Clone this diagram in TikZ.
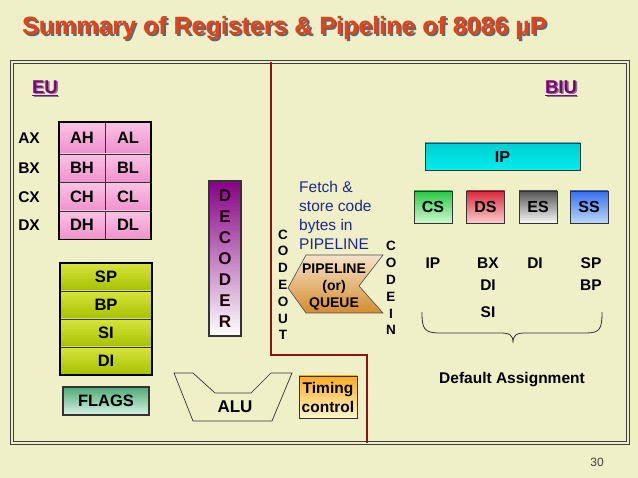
\documentclass[tikz,border=0pt]{standalone}
\usepackage{fontspec}
\setmainfont{Liberation Sans}
\usetikzlibrary{positioning}

\definecolor{slidebg}{RGB}{239,240,200}
\definecolor{titlered}{RGB}{228,66,28}
\definecolor{unitpurple}{RGB}{128,0,128}
\definecolor{divred}{RGB}{140,20,20}
\definecolor{notablue}{RGB}{30,40,140}
\definecolor{pinktop}{RGB}{250,195,228}
\definecolor{pinkbot}{RGB}{240,145,205}
\definecolor{limetop}{RGB}{215,228,60}
\definecolor{limebot}{RGB}{165,192,0}
\definecolor{flagtop}{RGB}{80,170,120}
\definecolor{flagbot}{RGB}{215,242,228}
\definecolor{dectop}{RGB}{135,0,135}
\definecolor{timetop}{RGB}{255,172,30}
\definecolor{timebot}{RGB}{255,246,205}
\definecolor{pipetop}{RGB}{246,226,200}
\definecolor{pipebot}{RGB}{212,140,48}
\definecolor{iptop}{RGB}{0,205,210}
\definecolor{ipbot}{RGB}{0,238,238}
\definecolor{cstop}{RGB}{40,200,70}
\definecolor{csbot}{RGB}{205,250,205}
\definecolor{dstop}{RGB}{220,40,60}
\definecolor{dsbot}{RGB}{250,205,205}
\definecolor{estop}{RGB}{85,85,85}
\definecolor{esbot}{RGB}{248,248,248}
\definecolor{sstop}{RGB}{55,110,240}
\definecolor{ssbot}{RGB}{185,215,255}

\begin{document}
\begin{tikzpicture}[
  x=1pt, y=-1pt,
  reg/.style={draw=black!80, line width=0.6pt, inner sep=0pt, outer sep=0pt,
    font=\bfseries\fontsize{16.5}{18}\selectfont},
  pinkreg/.style={reg, minimum width=46pt, minimum height=28.5pt,
    top color=pinktop, bottom color=pinkbot},
  limereg/.style={reg, minimum width=92pt, minimum height=28pt,
    top color=limetop, bottom color=limebot},
  seg/.style={reg, minimum width=38pt, minimum height=32pt,
    font=\bfseries\fontsize{16}{18}\selectfont},
  lbl/.style={inner sep=0pt, font=\bfseries\fontsize{15.5}{17}\selectfont},
  stack/.style={inner sep=0pt, align=center,
    font=\bfseries\fontsize{13.5}{16.8}\selectfont},
  heading/.style={inner sep=0pt, anchor=base west,
    font=\bfseries\fontsize{25}{28}\selectfont},
  unit/.style={inner sep=0pt, font=\bfseries\fontsize{18.5}{20}\selectfont},
  ]
  \fill [slidebg] (0,0) rectangle (638,478);
  \useasboundingbox (0,0) rectangle (638,478);

  \node [heading, text=black!60] (title-shade) at (24,37)
    {Summary of Registers \& Pipeline of 8086 µP};
  \node [heading, text=titlered] (title) at (22,35)
    {Summary of Registers \& Pipeline of 8086 µP};

  \draw [black!75, line width=0.7pt, double=slidebg, double distance=2.4pt]
    (12,62) rectangle (628,443);
  \draw [divred, line width=1.3pt] (271,62) -- (271,355) -- (367,355) -- (367,443);

  \node [unit, text=black!50] (eu-shade) at (46.5,89.5) {\underline{EU}};
  \node [unit, text=unitpurple] (eu) at (45,88) {\underline{EU}};
  \node [unit, text=black!50] (biu-shade) at (562.5,89.5) {\underline{BIU}};
  \node [unit, text=unitpurple] (biu) at (561,88) {\underline{BIU}};

  % general purpose registers
  \node [pinkreg, minimum height=32pt] (ah-reg) at (82,138) {AH};
  \node [pinkreg, minimum height=32pt, right=0pt of ah-reg] (al-reg) {AL};
  \node [pinkreg, below=0pt of ah-reg] (bh-reg) {BH};
  \node [pinkreg, right=0pt of bh-reg] (bl-reg) {BL};
  \node [pinkreg, below=0pt of bh-reg] (ch-reg) {CH};
  \node [pinkreg, right=0pt of ch-reg] (cl-reg) {CL};
  \node [pinkreg, below=0pt of ch-reg] (dh-reg) {DH};
  \node [pinkreg, right=0pt of dh-reg] (dl-reg) {DL};
  \draw [line width=1.4pt] (ah-reg.north west) rectangle (dl-reg.south east);
  \node [lbl, left=19pt of ah-reg] (ax-lbl) {AX};
  \node [lbl, left=19pt of bh-reg] (bx-lbl) {BX};
  \node [lbl, left=19pt of ch-reg] (cx-lbl) {CX};
  \node [lbl, left=19pt of dh-reg] (dx-lbl) {DX};

  % pointer and index registers
  \node [limereg] (sp-reg) at (106,277) {SP};
  \node [limereg, below=0pt of sp-reg] (bp-reg) {BP};
  \node [limereg, below=0pt of bp-reg] (si-reg) {SI};
  \node [limereg, below=0pt of si-reg] (di-reg) {DI};
  \draw [line width=1.4pt] (sp-reg.north west) rectangle (di-reg.south east);

  \node [reg, line width=1.4pt, minimum width=86pt, minimum height=28pt,
    top color=flagtop, bottom color=flagbot] (flags) at (106,401) {FLAGS};

  \node [reg, line width=1.4pt, minimum width=32pt, minimum height=155pt,
    top color=dectop, bottom color=white, align=center, text=black!85!purple,
    font=\bfseries\fontsize{17}{21}\selectfont] (decoder) at (225,258.5)
    {D\\E\\C\\O\\D\\E\\R};

  \draw [black!80, line width=0.7pt] (174,373) -- (193,373) -- (215,393)
    -- (251,393) -- (271,373) -- (292,373) -- (272,421) -- (193,421) -- cycle;
  \node [lbl, font=\bfseries\fontsize{17}{19}\selectfont] (alu) at (235,407) {ALU};

  \node [reg, minimum width=58pt, minimum height=42pt, align=center,
    top color=timetop, bottom color=timebot,
    font=\bfseries\fontsize{15.5}{19}\selectfont] (timing) at (328,397)
    {Timing\\control};

  % instruction queue
  \node [inner sep=0pt, anchor=base west, align=left, text=notablue,
    font=\fontsize{15.5}{19}\selectfont] (fetch-note) at (299,250)
    {Fetch \&\\store code\\bytes in\\PIPELINE};
  \draw [draw=black!70, line width=0.6pt, top color=pipetop, bottom color=pipebot]
    (288,288) -- (306,255) -- (383,255) -- (359,286) -- (383,313) -- (306,313) -- cycle;
  \node [stack, font=\bfseries\fontsize{14}{17}\selectfont] (queue) at (334,287)
    {PIPELINE\\(or)\\QUEUE};
  \node [stack, anchor=base] (code-out) at (283,340) {C\\O\\D\\E\\O\\U\\T};
  \node [stack, anchor=base] (code-in) at (391,335) {C\\O\\D\\E\\I\\N};

  % bus interface unit
  \node [reg, minimum width=155pt, minimum height=27pt, top color=iptop,
    bottom color=ipbot, font=\bfseries\fontsize{16}{18}\selectfont] (ip-reg)
    at (502.5,156.5) {IP};
  \node [seg, top color=cstop, bottom color=csbot] (cs-reg) at (433,207) {CS};
  \node [seg, top color=dstop, bottom color=dsbot] (ds-reg) at (485.5,207) {DS};
  \node [seg, top color=estop, bottom color=esbot] (es-reg) at (538,207) {ES};
  \node [seg, top color=sstop, bottom color=ssbot] (ss-reg) at (589,207) {SS};

  \node [lbl] (cs-ip) at (433,263) {IP};
  \node [lbl] (ds-bx) at (488,263) {BX};
  \node [lbl] (ds-di) at (488,285) {DI};
  \node [lbl] (ds-si) at (488,312) {SI};
  \node [lbl] (es-di) at (535,263) {DI};
  \node [lbl] (ss-sp) at (591,263) {SP};
  \node [lbl] (ss-bp) at (591,285) {BP};

  \draw [black!80, line width=0.8pt] (422,312) .. controls (422,329) and (424,333) .. (440,333)
    -- (500,333) .. controls (510,333) and (513,335) .. (513,343)
    .. controls (513,335) and (516,333) .. (526,333) -- (586,333)
    .. controls (600,333) and (602,329) .. (602,312);
  \node [lbl] (default-note) at (512,380) {Default Assignment};

  \node [inner sep=0pt, text=black!75, font=\fontsize{12}{14}\selectfont]
    (page-no) at (597,462) {30};
\end{tikzpicture}
\end{document}
